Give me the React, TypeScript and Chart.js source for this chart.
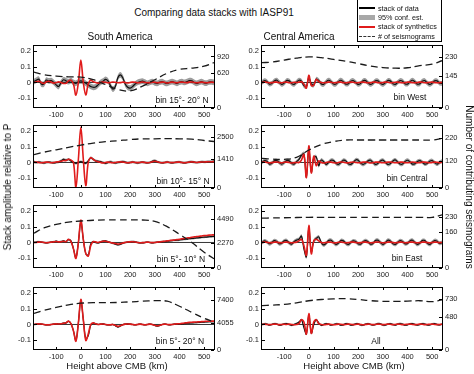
import React, { useEffect, useRef } from 'react';
import { Chart, registerables } from 'chart.js';
Chart.register(...registerables);

const FONT = '"Liberation Sans", Arial, Helvetica, sans-serif';

// Height above CMB (km) sample grid
const HEIGHT_KM = [
  -190, -180, -170, -160, -150, -140, -130, -120, -110, -100,
  -90, -80, -70, -60, -50, -40, -30, -20, -10, 0,
  10, 20, 30, 40, 50, 60, 70, 80, 90, 100,
  110, 120, 130, 140, 150, 160, 170, 180, 190, 200,
  210, 220, 230, 240, 250, 260, 270, 280, 290, 300,
  310, 320, 330, 340, 350, 360, 370, 380, 390, 400,
  410, 420, 430, 440, 450, 460, 470, 480, 490, 500,
  510, 520, 530, 540,
];
const COUNT_KM = [-190, -150, -100, -50, 0, 50, 100, 150, 200, 250, 300, 350, 400, 450, 500, 540];
const X_TICKS = [-100, 0, 100, 200, 300, 400, 500];
const AMP_TICKS = [-0.1, 0, 0.1, 0.2];

// ---------- South America, bin 15-20 N ----------
const SA1_DATA = [
  0.005, 0.015, 0.02, -0.01, -0.01, 0.015, 0.01, 0.012, 0.0, -0.015,
  -0.025, 0.0, 0.017, 0.01, 0.005, 0.012, 0.0, -0.005, 0.005, 0.01,
  0.005, -0.005, -0.015, -0.025, -0.03, -0.028, -0.015, 0.0, 0.008, 0.02,
  0.01, -0.02, -0.042, -0.025, 0.03, 0.048, 0.03, -0.01, -0.03, -0.035,
  -0.025, -0.01, 0.0, 0.005, 0.008, 0.002, -0.005, 0.0, 0.005, -0.003,
  -0.006, 0.002, 0.006, -0.002, -0.006, 0.0, 0.005, 0.0, -0.005, 0.002,
  0.006, 0.0, 0.005, 0.012, 0.01, 0.0, -0.006, 0.0, 0.005, -0.002,
  -0.004, 0.003, 0.004, 0.0,
];
const SA1_SYN = [
  0.0, 0.004, 0.008, 0.0, -0.006, 0.004, 0.008, 0.002, -0.004, 0.0,
  0.004, 0.0, -0.006, -0.005, 0.01, 0.015, -0.01, -0.08, 0.0, 0.14,
  0.0, -0.078, -0.01, 0.015, 0.005, 0.0, -0.004, 0.0, 0.003, 0.001,
  -0.002, 0.0, 0.003, 0.001, -0.002, -0.001, 0.002, 0.0, -0.003, 0.0,
  0.002, 0.001, -0.002, 0.0, 0.003, 0.0, -0.002, -0.001, 0.002, 0.001,
  -0.002, 0.0, 0.002, 0.001, -0.003, 0.0, 0.002, 0.0, -0.002, 0.001,
  0.002, 0.0, -0.001, 0.002, 0.003, 0.0, -0.002, 0.0, 0.002, 0.0,
  -0.002, 0.0, 0.002, 0.0,
];
const SA1_COUNT = [640, 595, 570, 556, 550, 505, 420, 330, 305, 390, 505, 620, 690, 712, 748, 810];
const SA1_COUNT_TICKS = [0, 620, 920];

// ---------- South America, bin 10-15 N ----------
const SA2_DATA = [
  0.005, 0.0, 0.003, 0.0, -0.003, 0.0, 0.002, 0.0, -0.002, 0.0,
  0.003, 0.01, 0.02, 0.015, 0.02, 0.01, 0.0, -0.005, 0.0, 0.005,
  0.0, -0.005, 0.01, 0.03, 0.02, 0.01, 0.008, 0.005, 0.0, -0.005,
  0.0, 0.004, 0.0, -0.003, 0.0, 0.003, 0.006, 0.002, -0.002, 0.0,
  0.003, 0.0, -0.003, 0.0, 0.002, 0.0, -0.002, 0.0, 0.008, 0.012,
  0.005, 0.0, -0.002, 0.0, 0.003, 0.0, -0.002, 0.0, 0.002, 0.003,
  0.0, -0.002, 0.0, 0.003, 0.005, 0.002, 0.0, 0.002, 0.004, 0.003,
  0.005, 0.006, 0.006, 0.008,
];
const SA2_SYN = [
  0.0, 0.002, 0.0, -0.002, 0.0, 0.002, 0.001, -0.002, 0.0, 0.003,
  0.005, 0.008, 0.012, 0.012, 0.02, 0.015, 0.0, -0.155, 0.02, 0.22,
  0.02, -0.145, 0.0, 0.03, 0.02, 0.01, 0.005, 0.0, -0.003, 0.0,
  0.002, 0.0, -0.002, 0.0, 0.002, 0.004, 0.002, 0.0, -0.002, 0.0,
  0.002, 0.0, -0.001, 0.0, 0.002, 0.0, -0.002, 0.0, 0.004, 0.008,
  0.004, 0.0, -0.002, 0.0, 0.002, 0.0, -0.001, 0.0, 0.002, 0.002,
  0.0, -0.002, 0.0, 0.002, 0.004, 0.002, 0.0, 0.002, 0.003, 0.003,
  0.004, 0.005, 0.005, 0.006,
];
const SA2_COUNT = [1640, 1755, 1875, 1995, 2105, 2200, 2270, 2320, 2375, 2410, 2410, 2425, 2410, 2395, 2330, 2280];
const SA2_COUNT_TICKS = [0, 1410, 2500];

// ---------- South America, bin 5-10 N ----------
const SA3_DATA = [
  0.0, 0.003, 0.005, 0.002, 0.0, -0.002, 0.0, 0.003, 0.005, 0.008,
  0.004, 0.006, 0.01, 0.005, 0.018, 0.01, -0.04, -0.095, 0.0, 0.13,
  0.02, -0.07, -0.08, -0.01, 0.005, 0.0, -0.003, 0.003, 0.008, 0.01,
  0.004, 0.0, -0.005, -0.01, -0.015, -0.012, -0.005, 0.0, 0.003, 0.005,
  0.006, 0.004, 0.0, -0.003, -0.002, 0.0, 0.002, 0.0, -0.002, 0.0,
  0.002, 0.004, 0.005, 0.006, 0.008, 0.01, 0.012, 0.013, 0.014, 0.016,
  0.018, 0.02, 0.022, 0.024, 0.025, 0.027, 0.029, 0.03, 0.032, 0.033,
  0.034, 0.036, 0.037, 0.038,
];
const SA3_SYN = [
  0.0, 0.0, 0.002, 0.003, 0.0, -0.002, 0.0, 0.002, 0.004, 0.006,
  0.004, 0.005, 0.008, 0.005, 0.02, 0.005, -0.04, -0.1, 0.0, 0.14,
  0.02, -0.07, -0.085, -0.02, 0.005, 0.004, 0.0, 0.004, 0.008, 0.008,
  0.004, 0.0, -0.004, -0.006, -0.01, -0.008, -0.003, 0.0, 0.003, 0.004,
  0.005, 0.003, 0.0, -0.002, -0.001, 0.0, 0.002, 0.0, -0.001, 0.0,
  0.002, 0.004, 0.006, 0.008, 0.01, 0.012, 0.014, 0.016, 0.018, 0.02,
  0.023, 0.025, 0.028, 0.03, 0.033, 0.035, 0.037, 0.039, 0.041, 0.043,
  0.044, 0.046, 0.047, 0.048,
];
const SA3_COUNT = [3200, 3680, 4000, 4220, 4320, 4390, 4420, 4420, 4420, 4410, 4280, 3800, 3100, 2350, 1450, 850];
const SA3_COUNT_TICKS = [0, 2270, 4490];

// ---------- South America, bin 5-20 N ----------
const SA4_DATA = [
  0.0, 0.002, 0.004, 0.003, 0.0, -0.003, -0.002, 0.0, 0.002, 0.004,
  0.003, 0.005, 0.008, 0.01, 0.02, 0.005, -0.04, -0.1, 0.01, 0.15,
  0.03, -0.09, -0.07, -0.005, 0.008, 0.004, 0.0, 0.002, 0.004, 0.0,
  -0.003, -0.002, 0.0, -0.008, -0.016, -0.01, -0.002, 0.002, 0.004, 0.002,
  0.0, -0.002, 0.0, 0.002, 0.0, -0.002, 0.0, 0.002, 0.0, -0.006,
  -0.01, -0.006, 0.0, 0.002, 0.0, -0.002, 0.0, 0.002, 0.003, 0.002,
  0.004, 0.006, 0.008, 0.009, 0.01, 0.011, 0.012, 0.013, 0.014, 0.015,
  0.016, 0.017, 0.017, 0.018,
];
const SA4_SYN = [
  0.0, 0.002, 0.004, 0.003, 0.0, -0.002, -0.002, 0.0, 0.002, 0.004,
  0.003, 0.005, 0.008, 0.01, 0.022, 0.005, -0.04, -0.105, 0.01, 0.157,
  0.03, -0.1, -0.06, 0.0, 0.01, 0.004, 0.0, 0.002, 0.003, 0.0,
  -0.002, -0.002, 0.0, -0.006, -0.012, -0.008, -0.002, 0.002, 0.003, 0.002,
  0.0, -0.002, 0.0, 0.002, 0.0, -0.002, 0.0, 0.002, 0.0, -0.005,
  -0.008, -0.005, 0.0, 0.002, 0.0, -0.001, 0.0, 0.002, 0.004, 0.005,
  0.007, 0.009, 0.011, 0.013, 0.014, 0.015, 0.016, 0.017, 0.018, 0.019,
  0.02, 0.02, 0.021, 0.021,
];
const SA4_COUNT = [5450, 5880, 6330, 6720, 6950, 7030, 7030, 7060, 7150, 7250, 7330, 7250, 6500, 5600, 4700, 4200];
const SA4_COUNT_TICKS = [0, 4055, 7400];

// ---------- Central America, bin West ----------
const CA1_DATA = [
  0.0, 0.012, 0.006, -0.01, -0.006, 0.01, 0.014, 0.0, -0.012, -0.004,
  0.012, 0.01, -0.006, -0.012, 0.002, 0.014, 0.008, -0.02, -0.025, 0.03,
  -0.01, -0.015, 0.02, 0.012, -0.008, -0.012, 0.004, 0.014, 0.006, -0.01,
  -0.01, 0.006, 0.014, 0.004, -0.01, -0.008, 0.008, 0.012, 0.0, -0.012,
  -0.006, 0.01, 0.012, -0.002, -0.012, -0.004, 0.01, 0.01, -0.004, -0.012,
  -0.002, 0.012, 0.01, -0.006, -0.012, 0.0, 0.012, 0.008, -0.008, -0.01,
  0.004, 0.014, 0.004, -0.01, -0.008, 0.008, 0.012, -0.002, -0.012, -0.004,
  0.01, 0.01, -0.004, -0.006,
];
const CA1_SYN = [
  0.0, 0.002, 0.001, -0.002, -0.001, 0.002, 0.002, -0.001, -0.002, 0.001,
  0.002, -0.001, -0.002, 0.001, 0.0, 0.002, 0.005, -0.01, -0.035, 0.045,
  -0.02, -0.018, 0.02, 0.005, 0.0, -0.002, 0.0, 0.002, 0.001, -0.002,
  -0.001, 0.002, 0.002, -0.001, -0.002, 0.0, 0.002, 0.001, -0.002, -0.001,
  0.001, 0.002, 0.0, -0.002, -0.001, 0.002, 0.002, -0.001, -0.002, 0.0,
  0.002, 0.001, -0.002, -0.001, 0.001, 0.002, 0.0, -0.002, -0.001, 0.002,
  0.002, -0.001, -0.002, 0.0, 0.002, 0.001, -0.002, -0.001, 0.001, 0.002,
  0.0, -0.002, -0.001, 0.001,
];
const CA1_COUNT = [205, 208, 217, 226, 231, 228, 220, 212, 201, 190, 183, 180, 182, 192, 198, 214];
const CA1_COUNT_TICKS = [0, 145, 230];

// ---------- Central America, bin Central ----------
const CA2_DATA = [
  0.0, 0.012, 0.008, -0.01, -0.005, 0.01, 0.012, 0.0, -0.01, 0.0,
  0.012, 0.01, -0.005, -0.01, 0.005, 0.02, 0.045, 0.055, -0.09, 0.08,
  -0.06, 0.03, 0.035, -0.02, 0.015, 0.005, -0.012, 0.0, 0.014, 0.012,
  -0.005, -0.012, 0.0, 0.014, 0.01, -0.008, -0.012, 0.0, 0.016, 0.014,
  -0.004, -0.012, -0.004, 0.01, 0.014, 0.0, -0.012, -0.006, 0.01, 0.015,
  0.002, -0.012, -0.008, 0.008, 0.016, 0.004, -0.01, -0.01, 0.006, 0.014,
  0.004, -0.01, -0.008, 0.006, 0.012, 0.002, -0.01, -0.006, 0.008, 0.012,
  0.0, -0.01, 0.0, 0.008,
];
const CA2_SYN = [
  0.001, 0.003, 0.0, -0.002, -0.001, 0.002, 0.003, 0.0, -0.002, 0.001,
  0.002, 0.0, -0.003, -0.001, 0.0, 0.0, 0.015, 0.05, -0.095, 0.104,
  -0.065, 0.04, -0.02, 0.01, 0.0, -0.003, 0.0, 0.003, 0.002, -0.001,
  -0.003, 0.0, 0.003, 0.001, -0.002, -0.002, 0.001, 0.003, 0.0, -0.002,
  -0.001, 0.002, 0.003, 0.0, -0.003, -0.001, 0.002, 0.002, 0.0, -0.002,
  -0.001, 0.002, 0.003, 0.0, -0.002, -0.001, 0.002, 0.002, -0.001, -0.002,
  0.0, 0.003, 0.001, -0.002, -0.001, 0.002, 0.002, 0.0, -0.002, 0.0,
  0.002, 0.001, -0.001, 0.0,
];
const CA2_COUNT = [130, 127, 126, 135, 167, 191, 204, 211, 211, 211, 211, 211, 211, 211, 211, 218];
const CA2_COUNT_TICKS = [0, 120, 220];

// ---------- Central America, bin East ----------
const CA3_DATA = [
  0.0, 0.01, 0.004, -0.008, 0.0, 0.012, 0.006, -0.008, -0.004, 0.01,
  0.012, -0.002, -0.01, 0.005, 0.015, 0.02, 0.04, -0.04, -0.09, 0.09,
  -0.06, 0.01, 0.025, 0.035, 0.0, -0.015, -0.005, 0.012, 0.014, 0.0,
  -0.012, -0.004, 0.012, 0.01, -0.005, -0.012, 0.0, 0.01, 0.006, -0.008,
  -0.01, 0.004, 0.012, 0.004, -0.01, -0.006, 0.012, 0.014, 0.0, -0.012,
  -0.002, 0.014, 0.01, -0.006, -0.012, 0.0, 0.012, 0.006, -0.008, -0.006,
  0.01, 0.014, 0.0, -0.012, -0.004, 0.012, 0.012, -0.004, -0.012, 0.0,
  0.012, 0.008, -0.006, 0.0,
];
const CA3_SYN = [
  0.0, 0.002, 0.001, -0.002, -0.001, 0.002, 0.002, -0.001, -0.002, 0.001,
  0.002, 0.0, -0.002, 0.0, 0.002, 0.01, 0.02, -0.02, -0.08, 0.107,
  -0.07, 0.01, 0.02, 0.01, 0.0, -0.002, 0.0, 0.002, 0.001, -0.002,
  -0.002, 0.001, 0.003, 0.0, -0.002, -0.001, 0.002, 0.002, 0.0, -0.002,
  -0.001, 0.002, 0.002, 0.0, -0.002, -0.001, 0.002, 0.003, 0.0, -0.002,
  -0.001, 0.002, 0.002, 0.0, -0.002, 0.0, 0.002, 0.001, -0.002, -0.001,
  0.002, 0.002, 0.0, -0.002, -0.001, 0.002, 0.002, 0.0, -0.002, 0.0,
  0.002, 0.001, -0.001, 0.0,
];
const CA3_COUNT = [223, 224, 225, 226, 227, 227, 227, 227, 227, 227, 227, 227, 227, 227, 227, 238];
const CA3_COUNT_TICKS = [0, 160, 230];

// ---------- Central America, All ----------
const CA4_DATA = [
  0.0, 0.004, 0.002, -0.004, 0.0, 0.005, 0.003, -0.004, -0.002, 0.004,
  0.005, 0.0, -0.005, 0.0, 0.006, 0.015, 0.03, -0.02, -0.06, 0.06,
  -0.055, 0.0, 0.03, 0.01, -0.005, 0.0, 0.005, 0.002, -0.004, 0.0,
  0.004, 0.002, -0.004, -0.002, 0.005, 0.003, -0.004, -0.002, 0.004, 0.004,
  -0.003, -0.004, 0.002, 0.005, 0.0, -0.004, 0.0, 0.006, 0.004, -0.003,
  -0.004, 0.002, 0.005, 0.0, -0.004, 0.002, 0.006, 0.002, -0.004, -0.002,
  0.004, 0.005, 0.0, -0.004, 0.0, 0.005, 0.003, -0.003, -0.003, 0.003,
  0.005, 0.0, -0.003, 0.002,
];
const CA4_SYN = [
  0.0, 0.001, 0.0, -0.001, 0.0, 0.002, 0.001, -0.001, 0.0, 0.001,
  0.0, 0.002, 0.0, -0.002, 0.0, 0.005, 0.03, 0.015, -0.06, 0.069,
  -0.056, 0.015, 0.03, 0.005, 0.0, -0.002, 0.0, 0.002, 0.0, -0.002,
  0.0, 0.002, 0.001, -0.001, 0.0, 0.002, 0.001, -0.001, 0.0, 0.002,
  0.0, -0.002, 0.0, 0.002, 0.001, -0.001, 0.0, 0.002, 0.001, -0.001,
  0.0, 0.002, 0.001, -0.001, 0.0, 0.002, 0.001, -0.001, 0.0, 0.001,
  0.002, 0.0, -0.001, 0.0, 0.002, 0.001, -0.001, 0.0, 0.001, 0.002,
  0.0, -0.001, 0.0, 0.001,
];
const CA4_COUNT = [640, 647, 657, 680, 710, 728, 737, 739, 729, 711, 701, 700, 704, 710, 697, 722];
const CA4_COUNT_TICKS = [0, 480, 730];

// 95% confidence half-widths (amplitude units)
const CONF_HALF = { SA1: 0.018, SA2: 0.008, SA3: 0.006, SA4: 0.005, CA1: 0.015, CA2: 0.012, CA3: 0.012, CA4: 0.006 };

const BIN_LABELS = {
  SA1: 'bin 15°- 20° N', SA2: 'bin 10°- 15° N', SA3: 'bin 5°- 10° N', SA4: 'bin 5°- 20° N',
  CA1: 'bin West', CA2: 'bin Central', CA3: 'bin East', CA4: 'All',
};

// ---------- layout (positions only) ----------
const PANEL_TOPS = [45, 125, 205, 287];
const LEFT_COL = { canvasLeft: 0, width: 240, axisL: 34, axisR: 26 };
const RIGHT_COL = { canvasLeft: 240, width: 234, axisL: 22, axisR: 32 };

type PanelDef = {
  key: string; data: number[]; syn: number[]; counts: number[]; countTicks: number[]; countMax: number;
  col: typeof LEFT_COL; row: number; labelX: number; labelY: number;
};

const PANELS: PanelDef[] = [
  { key: 'SA1', data: SA1_DATA, syn: SA1_SYN, counts: SA1_COUNT, countTicks: SA1_COUNT_TICKS, countMax: 1125, col: LEFT_COL, row: 0, labelX: 182, labelY: 100 },
  { key: 'SA2', data: SA2_DATA, syn: SA2_SYN, counts: SA2_COUNT, countTicks: SA2_COUNT_TICKS, countMax: 3090, col: LEFT_COL, row: 1, labelX: 183, labelY: 181 },
  { key: 'SA3', data: SA3_DATA, syn: SA3_SYN, counts: SA3_COUNT, countTicks: SA3_COUNT_TICKS, countMax: 5790, col: LEFT_COL, row: 2, labelX: 181, labelY: 259 },
  { key: 'SA4', data: SA4_DATA, syn: SA4_SYN, counts: SA4_COUNT, countTicks: SA4_COUNT_TICKS, countMax: 9360, col: LEFT_COL, row: 3, labelX: 180, labelY: 341 },
  { key: 'CA1', data: CA1_DATA, syn: CA1_SYN, counts: CA1_COUNT, countTicks: CA1_COUNT_TICKS, countMax: 285, col: RIGHT_COL, row: 0, labelX: 410, labelY: 97 },
  { key: 'CA2', data: CA2_DATA, syn: CA2_SYN, counts: CA2_COUNT, countTicks: CA2_COUNT_TICKS, countMax: 277, col: RIGHT_COL, row: 1, labelX: 407, labelY: 178 },
  { key: 'CA3', data: CA3_DATA, syn: CA3_SYN, counts: CA3_COUNT, countTicks: CA3_COUNT_TICKS, countMax: 282, col: RIGHT_COL, row: 2, labelX: 407, labelY: 258 },
  { key: 'CA4', data: CA4_DATA, syn: CA4_SYN, counts: CA4_COUNT, countTicks: CA4_COUNT_TICKS, countMax: 908, col: RIGHT_COL, row: 3, labelX: 376, labelY: 341 },
];

const framePlugin = {
  id: 'frame',
  afterDraw(chart: any) {
    const { ctx, chartArea: a, scales } = chart;
    const L = 3;
    ctx.save();
    ctx.strokeStyle = '#000';
    ctx.lineWidth = 1;
    ctx.beginPath();
    for (const t of scales.x.ticks) {
      const px = Math.round(scales.x.getPixelForValue(t.value)) + 0.5;
      ctx.moveTo(px, a.bottom); ctx.lineTo(px, a.bottom - L);
      ctx.moveTo(px, a.top); ctx.lineTo(px, a.top + L);
    }
    for (const t of scales.y.ticks) {
      const py = Math.round(scales.y.getPixelForValue(t.value)) + 0.5;
      ctx.moveTo(a.left, py); ctx.lineTo(a.left + L, py);
    }
    for (const t of scales.y2.ticks) {
      const py = Math.round(scales.y2.getPixelForValue(t.value)) + 0.5;
      ctx.moveTo(a.right, py); ctx.lineTo(a.right - L, py);
    }
    ctx.stroke();
    ctx.strokeRect(Math.round(a.left) - 0.5, Math.round(a.top) + 0.5, Math.round(a.right - a.left) + 1, Math.round(a.bottom - a.top) - 1);
    ctx.restore();
  },
};

const tickFont = { family: FONT, size: 7.5 };

function PanelChart({ p }: { p: PanelDef }) {
  const ref = useRef<HTMLCanvasElement>(null);
  useEffect(() => {
    const xy = (xs: number[], ys: number[]) => xs.map((x, i) => ({ x, y: ys[i] }));
    const conf = (CONF_HALF as any)[p.key];
    const upper = p.data.map((v) => v + conf);
    const lower = p.data.map((v) => v - conf);
    const chart = new Chart(ref.current as HTMLCanvasElement, {
      type: 'line',
      data: {
        datasets: [
          { label: '# of seismograms', data: xy(COUNT_KM, p.counts), yAxisID: 'y2', borderColor: '#1a1a1a', borderWidth: 1.3, borderDash: [7, 4], pointRadius: 0, tension: 0.4, fill: false, order: 0 },
          { label: 'stack of synthetics', data: xy(HEIGHT_KM, p.syn), yAxisID: 'y', borderColor: '#e01b1b', borderWidth: 1.6, pointRadius: 0, tension: 0.35, fill: false, order: 1 },
          { label: 'stack of data', data: xy(HEIGHT_KM, p.data), yAxisID: 'y', borderColor: '#111', borderWidth: 1.2, pointRadius: 0, tension: 0.35, fill: false, order: 2 },
          { label: 'zero', data: [{ x: -190, y: 0 }, { x: 540, y: 0 }], yAxisID: 'y', borderColor: '#000', borderWidth: 0.8, pointRadius: 0, fill: false, order: 3 },
          { label: 'conf upper', data: xy(HEIGHT_KM, upper), yAxisID: 'y', borderWidth: 0, borderColor: 'rgba(0,0,0,0)', backgroundColor: '#9d9d9d', pointRadius: 0, tension: 0.35, fill: '+1', order: 4 },
          { label: 'conf lower', data: xy(HEIGHT_KM, lower), yAxisID: 'y', borderWidth: 0, borderColor: 'rgba(0,0,0,0)', pointRadius: 0, tension: 0.35, fill: false, order: 5 },
        ] as any,
      },
      options: {
        responsive: false,
        animation: false,
        devicePixelRatio: 1,
        events: [],
        layout: { padding: { top: 4, left: 0, right: 0, bottom: 0 } },
        plugins: { legend: { display: false }, tooltip: { enabled: false } },
        scales: {
          x: {
            type: 'linear', position: 'bottom', min: -190, max: 540,
            afterBuildTicks: (s: any) => { s.ticks = X_TICKS.map((v) => ({ value: v })); },
            afterFit: (s: any) => { s.height = 13; s.paddingLeft = 0; s.paddingRight = 0; },
            grid: { display: false, drawTicks: false }, border: { display: false },
            ticks: { font: tickFont, color: '#222', padding: 2, maxRotation: 0, autoSkip: false, callback: (v: any) => String(v) },
          },
          y: {
            type: 'linear', position: 'left', min: -0.16, max: 0.235,
            afterBuildTicks: (s: any) => { s.ticks = AMP_TICKS.map((v) => ({ value: v })); },
            afterFit: (s: any) => { s.width = p.col.axisL; s.paddingTop = 0; s.paddingBottom = 0; },
            grid: { display: false, drawTicks: false }, border: { display: false },
            ticks: { font: tickFont, color: '#222', padding: 3, autoSkip: false, callback: (v: any) => String(v) },
          },
          y2: {
            type: 'linear', position: 'right', min: 0, max: p.countMax,
            afterBuildTicks: (s: any) => { s.ticks = p.countTicks.map((v) => ({ value: v })); },
            afterFit: (s: any) => { s.width = p.col.axisR; s.paddingTop = 0; s.paddingBottom = 0; },
            grid: { display: false, drawTicks: false }, border: { display: false },
            ticks: { font: tickFont, color: '#222', padding: 3, autoSkip: false, callback: (v: any) => String(v) },
          },
        },
      } as any,
      plugins: [framePlugin],
    });
    return () => chart.destroy();
  }, [p]);
  return (
    <canvas
      ref={ref}
      width={p.col.width}
      height={80}
      style={{ position: 'absolute', left: p.col.canvasLeft, top: PANEL_TOPS[p.row] - 4, width: p.col.width, height: 80 }}
    />
  );
}

function Txt({ x, y, size, children, rotate = 0 }: { x: number; y: number; size: number; children: React.ReactNode; rotate?: number }) {
  return (
    <div
      style={{
        position: 'absolute', left: x, top: y, fontFamily: FONT, fontSize: size, lineHeight: 1, color: '#111',
        whiteSpace: 'nowrap', transform: `translate(-50%, -50%) rotate(${rotate}deg)`,
      }}
    >
      {children}
    </div>
  );
}

function Legend() {
  const rows = [
    { label: 'stack of data', sample: <div style={{ width: 16, height: 2, background: '#000' }} /> },
    { label: '95% conf. est.', sample: <div style={{ width: 16, height: 5, background: '#a8a8a8' }} /> },
    { label: 'stack of synthetics', sample: <div style={{ width: 16, height: 2, background: '#e01b1b' }} /> },
    { label: '# of seismograms', sample: <div style={{ width: 16, height: 0, borderTop: '1px dashed #333' }} /> },
  ];
  const ys = [7, 16, 25.5, 35];
  return (
    <div style={{ position: 'absolute', left: 357, top: -1, width: 85, height: 43, border: '1px solid #000', background: '#fff', boxSizing: 'border-box' }}>
      {rows.map((r, i) => (
        <div key={i} style={{ position: 'absolute', left: 1, top: ys[i] + 1 - 5, height: 10, display: 'flex', alignItems: 'center' }}>
          {r.sample}
          <span style={{ marginLeft: 3, fontFamily: FONT, fontSize: 7.2, color: '#111', whiteSpace: 'nowrap' }}>{r.label}</span>
        </div>
      ))}
    </div>
  );
}

export default function App() {
  return (
    <div style={{ position: 'absolute', left: 0, top: 0, width: 474, height: 374, background: '#fff', overflow: 'hidden' }}>
      {PANELS.map((p) => <PanelChart key={p.key} p={p} />)}
      <Txt x={214} y={13} size={10}>Comparing data stacks with IASP91</Txt>
      <Txt x={120} y={37} size={10}>South America</Txt>
      <Txt x={299} y={37} size={10}>Central America</Txt>
      {PANELS.map((p) => (
        <Txt key={'l' + p.key} x={p.labelX} y={p.labelY} size={8.5}>{(BIN_LABELS as any)[p.key]}</Txt>
      ))}
      <Txt x={8} y={187} size={10} rotate={-90}>Stack amplitude relative to P</Txt>
      <Txt x={469} y={187} size={10} rotate={90}>Number of contributing seismograms</Txt>
      <Txt x={117} y={366} size={9.5}>Height above CMB (km)</Txt>
      <Txt x={354} y={366} size={9.5}>Height above CMB (km)</Txt>
      <Legend />
    </div>
  );
}
